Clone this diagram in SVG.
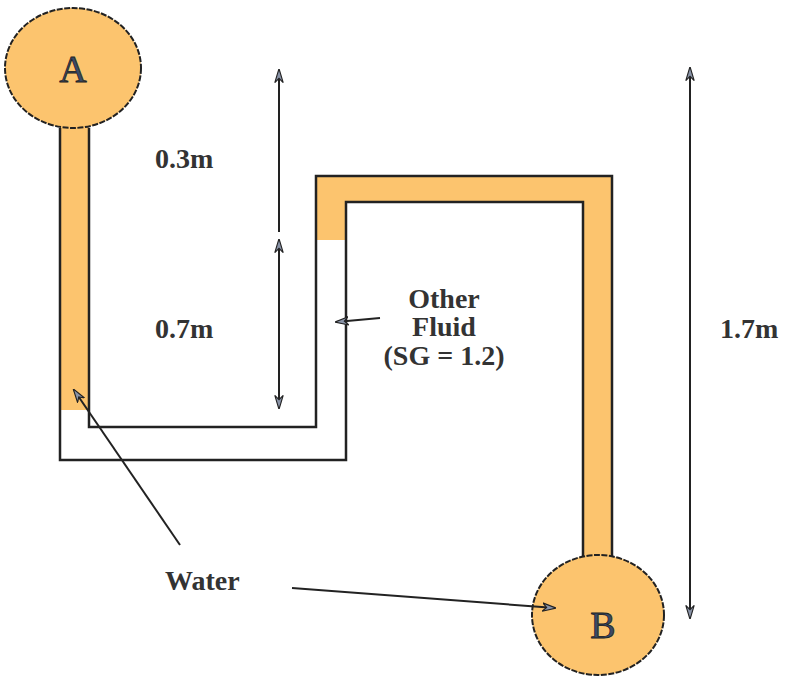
<svg xmlns="http://www.w3.org/2000/svg" width="803" height="681" viewBox="0 0 803 681">
<style>
text{font-family:"Liberation Serif","DejaVu Serif",serif;fill:#222;}
.lbl{font-size:28px;font-weight:bold;fill:#333;}
.big{font-size:38px;fill:#3a4a66;stroke:#222;stroke-width:0.8;}
.ln{stroke:#222;stroke-width:2.5;fill:none;}
.org{fill:#fcc46e;}
</style>
<defs>
<marker id="ah" viewBox="0 0 10 10" refX="9" refY="5" markerWidth="7" markerHeight="7" orient="auto-start-reverse">
<path d="M0,2 L10,5 L0,8 L3,5 Z" fill="#8a94a8" stroke="#222" stroke-width="0.8"/>
</marker>
</defs>
<rect width="803" height="681" fill="#fff"/>
<g id="fluid">
<rect class="org" x="60" y="120" width="29" height="290"/>
<rect class="org" x="316" y="176" width="30" height="64"/>
<rect class="org" x="316" y="176" width="296" height="26"/>
<rect class="org" x="583" y="176" width="29" height="390"/>
</g>
<g id="tube">
<path class="ln" d="M60,128 V460 H346 V202 H583 V560"/>
<path class="ln" d="M89,128 V427 H316 V176 H612 V560"/>
</g>
<g id="A">
<ellipse class="org" cx="73" cy="68" rx="68" ry="60" stroke="#222" stroke-width="2" stroke-dasharray="6,1.5"/>
<text class="big" x="73" y="82" text-anchor="middle">A</text>
</g>
<g id="B">
<ellipse class="org" cx="598" cy="615" rx="66" ry="60" stroke="#222" stroke-width="2" stroke-dasharray="6,1.5"/>
<text class="big" x="603" y="638" text-anchor="middle">B</text>
</g>
<g id="connectors" stroke="#222" stroke-width="2" fill="none">
<line x1="279" y1="232" x2="279" y2="70" marker-end="url(#ah)"/>
<line x1="279" y1="240" x2="279" y2="408" marker-end="url(#ah)" marker-start="url(#ah)"/>
<line x1="690" y1="340" x2="690" y2="68" marker-end="url(#ah)"/>
<line x1="690" y1="340" x2="690" y2="618" marker-end="url(#ah)"/>
<line x1="380" y1="318" x2="336" y2="322" marker-end="url(#ah)"/>
<line x1="180" y1="545" x2="74" y2="390" marker-end="url(#ah)"/>
<line x1="292" y1="588" x2="555" y2="608" marker-end="url(#ah)"/>
</g>
<g id="labels">
<text class="lbl" x="155" y="168">0.3m</text>
<text class="lbl" x="155" y="338">0.7m</text>
<text class="lbl" x="720" y="338">1.7m</text>
<text class="lbl" x="444" y="308" text-anchor="middle">Other</text>
<text class="lbl" x="444" y="336" text-anchor="middle">Fluid</text>
<text class="lbl" x="444" y="365" text-anchor="middle">(SG = 1.2)</text>
<text class="lbl" x="165" y="590">Water</text>
</g>
</svg>
